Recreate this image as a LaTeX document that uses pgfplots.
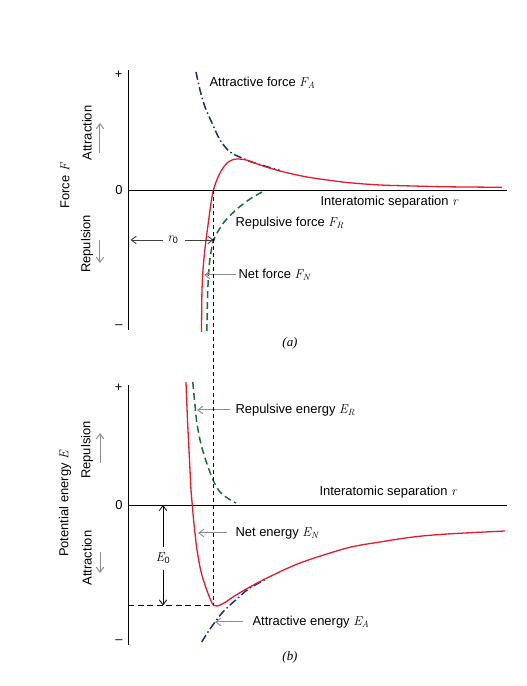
\documentclass[border=0pt]{standalone}
\usepackage{fontspec}
\setmainfont{Liberation Sans}
\newfontfamily\capfont{Liberation Serif}
\newfontfamily\lmr{Latin Modern Roman}
\usepackage{pgfplots}
\pgfplotsset{compat=1.18}
\usetikzlibrary{arrows.meta}

% italic symbols and subscripts
\newcommand\mi[1]{{\lmr\itshape #1}}
\newcommand\sym[2]{\mi{#1}\textsubscript{\mi{#2}}}

\definecolor{netred}{HTML}{E31B2B}
\definecolor{repgreen}{HTML}{1E6B3C}
\definecolor{attblue}{HTML}{1B2F78}
\definecolor{leader}{HTML}{8C8C8C}

\tikzset{
  barb/.style={-{Straight Barb[length=5bp,width=7.5bp]}},
  lead/.style={barb, leader, line width=1bp},
}

\pgfplotsset{
  panel/.style={
    x=1bp, y=1bp,
    xmin=0, xmax=379, ymin=-140, ymax=120,
    axis x line=none, axis y line=left,
    axis line style={-, line width=0.9bp},
    xtick=\empty,
    ytick={-137,0,115},
    yticklabels={\textendash,0,+},
    major tick length=0pt,
    yticklabel style={xshift=-2bp},
    clip=false,
    anchor=south west,
  },
  net/.style={netred, line width=1.3bp, smooth},
  rep/.style={repgreen, line width=1.5bp, dash pattern=on 7bp off 4bp, smooth},
  att/.style={attblue, line width=1.5bp, dash pattern=on 8bp off 3bp on 1.5bp off 3bp, smooth},
}

\begin{document}
\begin{tikzpicture}[font=\fontsize{13}{15}\selectfont]
\path[use as bounding box] (0,0) rectangle (527bp,686bp);

% ---------------- (a) force versus separation ----------------
\begin{axis}[panel, at={(128bp,356bp)}]
  \draw[line width=0.9bp] (axis cs:0,0) -- (axis cs:379,0);
  % attractive force
  \addplot[att] coordinates {
    (68,118) (72,100) (77,83) (84,67) (92,50) (102,38) (114,32)
    (122,28.5) (135,24.5) (152,19.5)};
  % repulsive force
  \addplot[rep] coordinates {
    (134,-2) (122,-9) (109,-19) (97,-31) (89,-43) (85.5,-50)
    (82.5,-65) (80.8,-80) (79.8,-100) (79.2,-120) (78.9,-142)};
  % net force
  \addplot[net] coordinates {
    (73.5,-142) (73.7,-120) (74,-100) (75,-80) (76.3,-65) (78,-50)
    (80,-35) (82,-20) (83.8,-8) (85.5,0) (88,8) (91.5,16) (95,22)
    (99,27) (104,30) (109,31) (114,30.7) (119,29.8) (135,24) (152,19)
    (169,15) (185,12) (219,7.5) (252,5) (285,4) (319,3.2) (374,2.7)};
  \coordinate (r0top) at (axis cs:85.5,0);

  \node[anchor=west] at (axis cs:78,107) {Attractive force \sym{F}{A}};
  \node[anchor=west] at (axis cs:189,-12) {Interatomic separation \mi{r}};
  \node[anchor=west] at (axis cs:104,-33) {Repulsive force \sym{F}{R}};
  \node[anchor=west] at (axis cs:107,-85) {Net force \sym{F}{N}};
  \draw[lead] (axis cs:108,-85) -- (axis cs:76,-85);

  % equilibrium spacing
  \draw[barb, black!75, line width=0.9bp] (axis cs:35,-50) -- (axis cs:2.5,-50);
  \draw[barb, black!75, line width=0.9bp] (axis cs:57,-50) -- (axis cs:85.5,-50);
  \node at (axis cs:45,-50) {\mi{r}\textsubscript{0}};
  \fill (axis cs:85.5,-50) circle (1.5bp);

  % side labels
  \node[rotate=90] at (axis cs:-63,4) {Force \mi{F}};
  \node[rotate=90] at (axis cs:-41,57) {Attraction};
  \node[rotate=90] at (axis cs:-41,-54) {Repulsion};
  \draw[lead] (axis cs:-28,37) -- (axis cs:-28,67);
  \draw[lead] (axis cs:-28,-50) -- (axis cs:-28,-73);

  \node at (axis cs:162,-153) {\capfont\itshape (a)};
\end{axis}

% ---------------- (b) potential energy versus separation ----------------
\begin{axis}[panel, at={(128bp,41bp)}, ytick={-137,0,117}]
  \draw[line width=0.9bp] (axis cs:0,0) -- (axis cs:379,0);
  % repulsive energy
  \addplot[rep] coordinates {
    (64.8,123) (66.5,105) (68.5,85) (71,70) (74,57) (79,41) (85.5,24)
    (92,13) (100,6.5) (108,2)};
  % attractive energy
  \addplot[att] coordinates {
    (73.7,-137) (80,-127) (87,-117) (94,-108) (102,-100) (110,-93)
    (119,-85) (129,-79) (139,-73.5)};
  % net energy
  \addplot[net] coordinates {
    (58,123) (59.5,85) (61.5,45) (63,15) (64.3,0) (65.5,-14) (67,-28)
    (69,-45) (72,-62) (74.5,-72) (78,-83) (81,-91) (83.5,-97)
    (86,-100.5) (89,-101) (92,-100) (97,-97.5) (105,-92) (120,-83)
    (139,-73) (172,-58) (219,-43) (252,-37) (285,-32) (319,-29) (377,-26)};
  \coordinate (r0bot) at (axis cs:85.5,-100.5);

  \draw[line width=0.9bp, dash pattern=on 6bp off 3.5bp] (axis cs:0,-100.5) -- (axis cs:85.5,-100.5);

  \node[anchor=west] at (axis cs:104,95) {Repulsive energy \sym{E}{R}};
  \draw[lead] (axis cs:102,95) -- (axis cs:69,95);
  \node[anchor=west] at (axis cs:188,13) {Interatomic separation \mi{r}};
  \node[anchor=west] at (axis cs:104,-28) {Net energy \sym{E}{N}};
  \draw[lead] (axis cs:99,-28) -- (axis cs:70,-28);
  \node[anchor=west] at (axis cs:121,-117) {Attractive energy \sym{E}{A}};
  \draw[lead] (axis cs:115,-117) -- (axis cs:87,-117);

  % bond energy
  \draw[barb, black, line width=0.8bp] (axis cs:35,-42) -- (axis cs:35,0);
  \draw[barb, black, line width=0.8bp] (axis cs:35,-65) -- (axis cs:35,-100.5);
  \node at (axis cs:35,-53) {\mi{E}\textsubscript{0}};

  % side labels
  \node[rotate=90] at (axis cs:-63,1) {Potential energy \mi{E}};
  \node[rotate=90] at (axis cs:-41,55) {Repulsion};
  \node[rotate=90] at (axis cs:-41,-53) {Attraction};
  \draw[lead] (axis cs:-28,42) -- (axis cs:-28,72);
  \draw[lead] (axis cs:-28,-47) -- (axis cs:-28,-68);

  \node at (axis cs:162,-152) {\capfont\itshape (b)};
\end{axis}

% equilibrium separation, common to both panels
\draw[line width=0.8bp, dash pattern=on 4bp off 3bp] (r0top) -- (r0bot);
\end{tikzpicture}
\end{document}
